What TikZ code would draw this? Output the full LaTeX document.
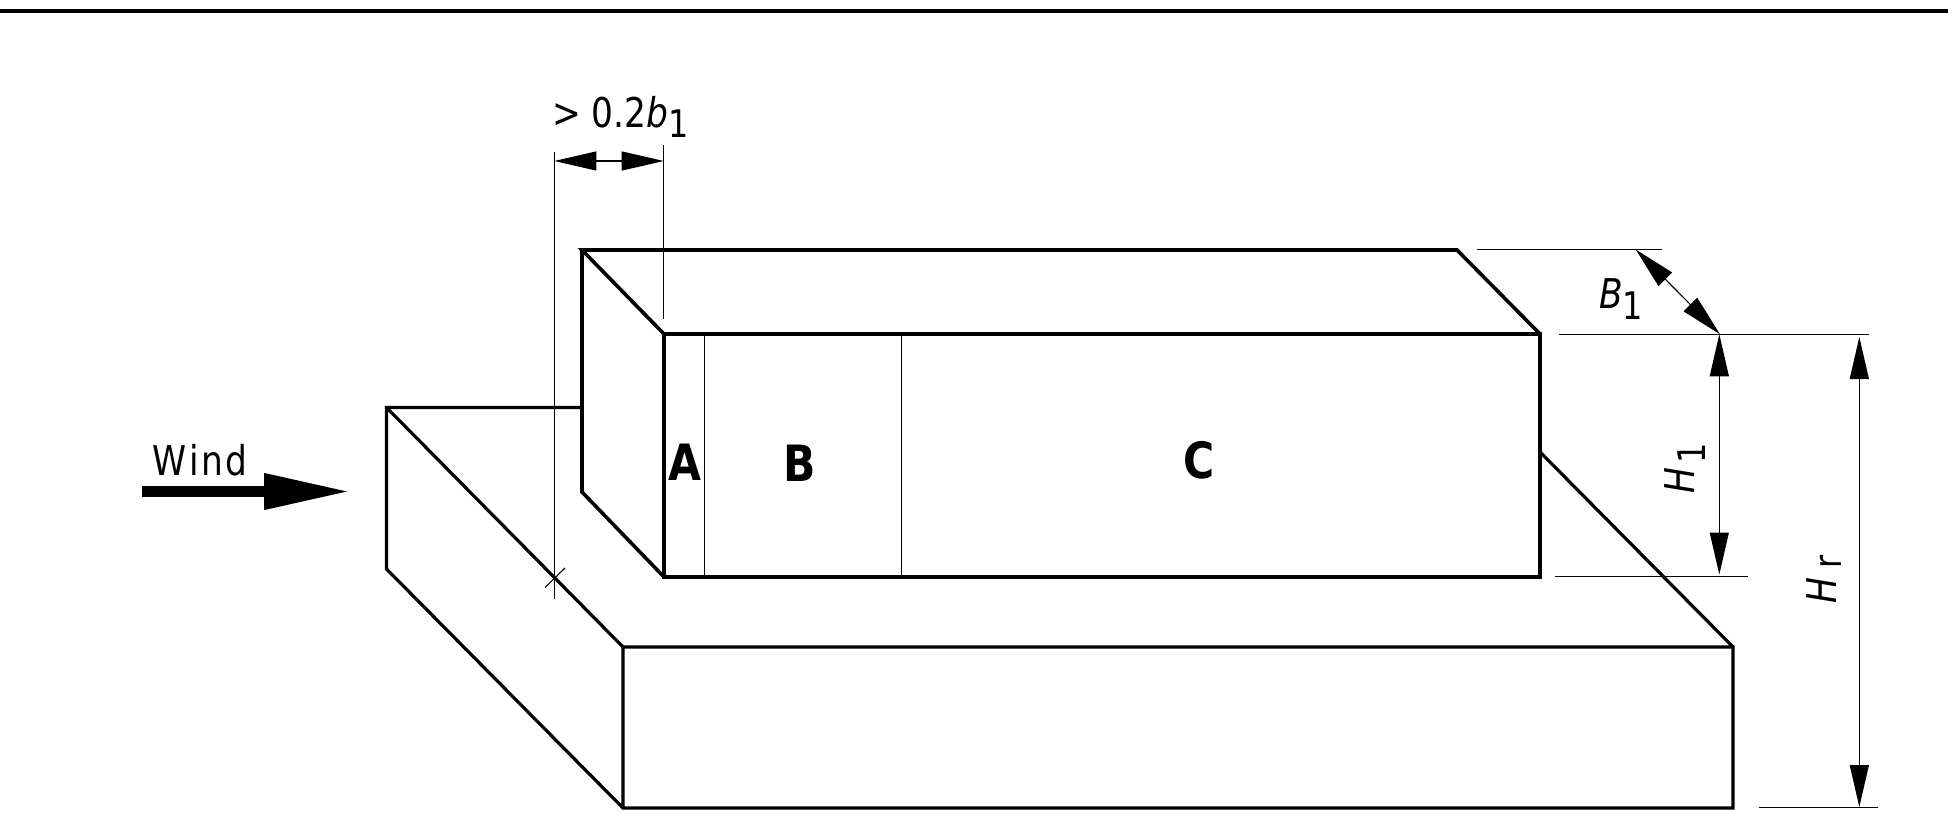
\documentclass[tikz,border=0pt]{standalone}
\usepackage{fontspec}
\usepackage{graphicx}
\setmainfont{DejaVu Sans}
\usetikzlibrary{arrows.meta}
\tikzset{
 x=0.5pt,y=-0.5pt,
 heavy/.style={line width=1.8pt,line join=miter,line cap=round},
 heavylow/.style={line width=1.6pt,line join=miter,line cap=round},
 fine/.style={line width=0.55pt},
 dimarrow/.style={fine,{Triangle[length=21pt,width=9.5pt]}-{Triangle[length=21pt,width=9.5pt]}},
 lbl/.style={inner sep=0pt,outer sep=0pt,font=\fontsize{20.5}{22}\selectfont},
 zone/.style={inner sep=0pt,font=\fontsize{25}{28}\selectfont\bfseries},
}
\newcommand{\subone}[1]{\raisebox{-5.5pt}{\fontsize{19}{20}\selectfont #1}}
\newcommand{\subr}[1]{\raisebox{-2.8pt}{\fontsize{19}{20}\selectfont #1}}
\newcommand{\narrow}[1]{\scalebox{.84}[1]{#1}}
\begin{document}
\begin{tikzpicture}
\useasboundingbox (0,0) rectangle (1948,813);
% upper block
\coordinate (uFL) at (664,334); \coordinate (uFR) at (1540,334);
\coordinate (uBL) at (664,577); \coordinate (uBR) at (1540,577);
\coordinate (uTL) at (582,250); \coordinate (uTR) at (1457,250);
\coordinate (uSB) at (582,492);
\coordinate (dAt) at (704.5,334); \coordinate (dAb) at (704.5,577);
\coordinate (dBt) at (901.5,334); \coordinate (dBb) at (901.5,577);
% lower block
\coordinate (lBL) at (386.5,407.5); \coordinate (lSB) at (386.5,569);
\coordinate (lJ) at (582,407.5);
\coordinate (lFT) at (623,647); \coordinate (lFB) at (623,808);
\coordinate (lRT) at (1733,647); \coordinate (lRB) at (1733,808);
\coordinate (lRJ) at (1541,453);
% rule
\draw[line width=2pt] (0,11.5) -- (1948,11.5);
% shapes
\draw[heavylow] (lJ) -- (lBL) -- (lSB) -- (lFB) -- (lRB) -- (lRT) -- (lFT) -- (lFB);
\draw[heavylow] (lBL) -- (lFT);
\draw[heavylow] (lRT) -- (lRJ);
\draw[heavy] (uFL) rectangle (uBR);
\draw[heavy] (uFL) -- (uTL) -- (uTR) -- (uFR);
\draw[heavy] (uTL) -- (uSB) -- (uBL);
\draw[fine] (dAt) -- (dAb);
\draw[fine] (dBt) -- (dBb);
% width dimension
\coordinate (e1t) at (554.3,152); \coordinate (e1b) at (554.3,599);
\coordinate (e2t) at (663.7,145); \coordinate (e2b) at (663.7,319);
\coordinate (w1) at (554.3,161); \coordinate (w2) at (663.7,161);
\draw[fine] (e1t) -- (e1b);
\draw[fine] (e2t) -- (e2b);
\draw[dimarrow] (w1) -- (w2);
\coordinate (t1) at (545,587.5); \coordinate (t2) at (565,568);
\draw[fine] (t1) -- (t2);
\node[lbl,anchor=base west] (lw) at (552,127) {\narrow{> 0.2\textit{b}\subone{1}}};
% B1 and H1 and Hr
\coordinate (x1a) at (1477,249.5); \coordinate (x1b) at (1662,249.5);
\coordinate (x2a) at (1559,334.3); \coordinate (x2b) at (1869,334.3);
\coordinate (x3a) at (1555,576.3); \coordinate (x3b) at (1748,576.3);
\coordinate (x4a) at (1759,807.5); \coordinate (x4b) at (1878,807.5);
\draw[fine] (x1a) -- (x1b);
\draw[fine] (x2a) -- (x2b);
\draw[fine] (x3a) -- (x3b);
\draw[fine] (x4a) -- (x4b);
\coordinate (b1a) at (1635.7,249.5); \coordinate (b1b) at (1720,334.3);
\draw[dimarrow] (b1a) -- (b1b);
\coordinate (h1a) at (1719.3,334.3); \coordinate (h1b) at (1719.3,574.5);
\draw[dimarrow] (h1a) -- (h1b);
\coordinate (hra) at (1859.3,337); \coordinate (hrb) at (1859.3,807);
\draw[dimarrow] (hra) -- (hrb);
\node[lbl,anchor=base west] (lb1) at (1599,308) {\narrow{\textit{B}\subone{1}}};
\node[lbl,anchor=base west,rotate=90] (lh1) at (1694,493) {\narrow{\textit{H}\kern2.4pt\subone{1}}};
\node[lbl,anchor=base west,rotate=90] (lhr) at (1836,603) {\narrow{\textit{H}\kern5pt\subr{r}}};
% zones
\node[zone,xscale=.85] (zA) at (684.5,462) {A};
\node[zone,xscale=.85] (zB) at (800,463.5) {B};
\node[zone,xscale=.85] (zC) at (1199.5,460) {C};
% wind
\coordinate (wa) at (142,491.5); \coordinate (wb) at (350,491.5);
\draw[line width=5.2pt,-{Triangle[length=43pt,width=17pt]}] (wa) -- (wb);
\node[lbl,anchor=base west] (lwind) at (152,475) {\narrow{W\kern2pt i\kern1.5pt n\kern1.5pt d}};
\end{tikzpicture}
\end{document}
